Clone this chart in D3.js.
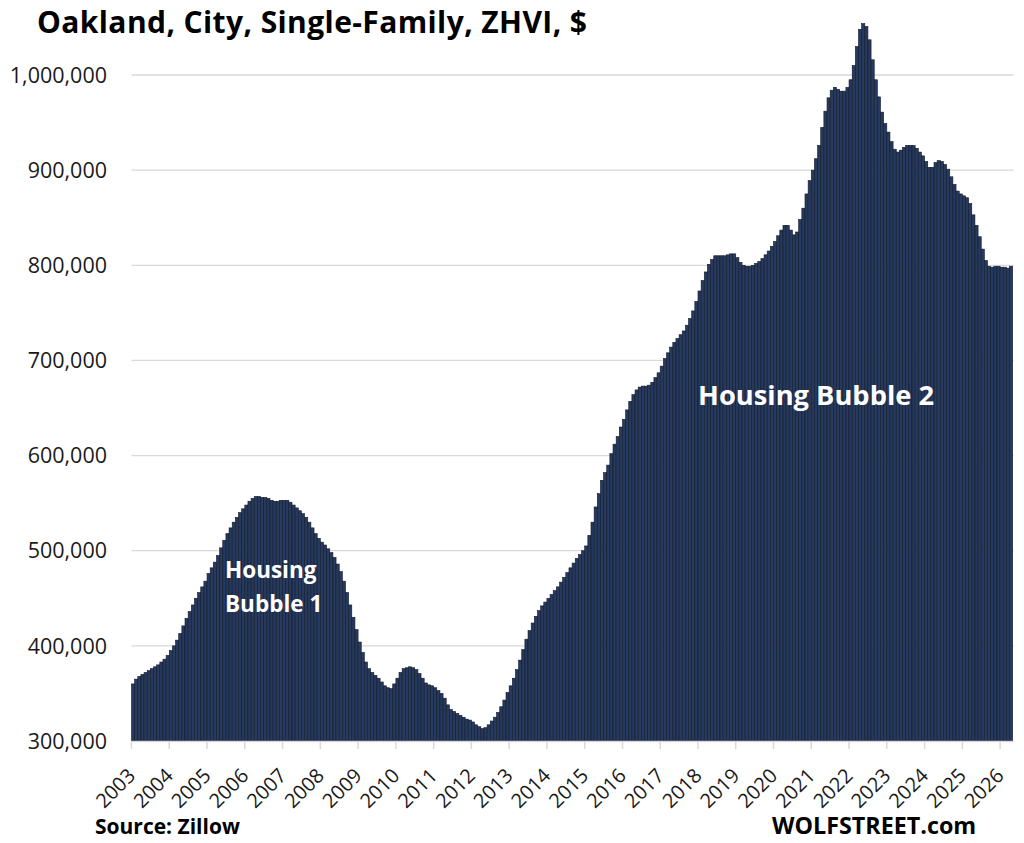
<!DOCTYPE html>
<html>
<head>
<meta charset="utf-8">
<script src="https://cdn.jsdelivr.net/npm/d3@7"></script>
<style>
  body { margin: 0; background: #fff; }
  svg { display: block; }
  text { font-family: "Open Sans", "Noto Sans", sans-serif; }
</style>
</head>
<body>
<div id="chart"></div>
<script>
// Oakland single-family ZHVI, monthly, Jan 2003 - Apr 2026
const firstYear = 2003;
const zhvi = [
  360000, 365000, 368000, 370000, 372000, 374000, 376000, 378000, 380000, 383000, 386000, 390000, // 2003
  395000, 400000, 406000, 413000, 421000, 429000, 436000, 443000, 450000, 456000, 462000, 468000, // 2004
  476000, 482000, 488000, 495000, 503000, 511000, 518000, 524000, 530000, 535000, 540000, 544000, // 2005
  548000, 552000, 555000, 557000, 557000, 556000, 556000, 555000, 553000, 552000, 552000, 553000, // 2006
  553000, 553000, 551000, 548000, 545000, 542000, 539000, 535000, 530000, 524000, 518000, 513000, // 2007
  509000, 506000, 502000, 498000, 493000, 486000, 478000, 468000, 456000, 443000, 430000, 417000, // 2008
  404000, 393000, 383000, 376000, 372000, 369000, 366000, 362000, 358000, 356000, 355000, 360000, // 2009
  366000, 372000, 376000, 377000, 378000, 377000, 375000, 371000, 366000, 361000, 359000, 358000, // 2010
  356000, 353000, 350000, 345000, 338000, 333000, 331000, 329000, 327000, 325000, 323000, 322000, // 2011
  320000, 317000, 315000, 313000, 314000, 317000, 321000, 325000, 330000, 336000, 343000, 351000, // 2012
  358000, 366000, 375000, 385000, 396000, 407000, 416000, 424000, 431000, 437000, 442000, 446000, // 2013
  450000, 454000, 458000, 462000, 467000, 472000, 477000, 482000, 487000, 492000, 496000, 500000, // 2014
  505000, 516000, 530000, 546000, 560000, 574000, 582000, 590000, 602000, 612000, 620000, 630000, // 2015
  638000, 648000, 657000, 664000, 669000, 672000, 673000, 673000, 674000, 677000, 682000, 687000, // 2016
  694000, 702000, 708000, 714000, 719000, 723000, 727000, 731000, 737000, 744000, 752000, 762000, // 2017
  773000, 784000, 793000, 801000, 806000, 810000, 810000, 810000, 810000, 811000, 812000, 812000, // 2018
  808000, 803000, 800000, 799000, 799000, 800000, 802000, 804000, 807000, 811000, 815000, 820000, // 2019
  825000, 831000, 837000, 842000, 842000, 837000, 832000, 835000, 848000, 860000, 875000, 889000, // 2020
  900000, 912000, 926000, 945000, 962000, 976000, 984000, 987000, 985000, 983000, 983000, 987000, // 2021
  995000, 1010000, 1030000, 1048000, 1054000, 1051000, 1037000, 1016000, 995000, 977000, 961000, 949000, // 2022
  940000, 930000, 922000, 919000, 921000, 924000, 926000, 926000, 926000, 923000, 919000, 915000, // 2023
  909000, 903000, 903000, 908000, 910000, 909000, 906000, 901000, 893000, 885000, 878000, 875000, // 2024
  873000, 871000, 865000, 853000, 842000, 830000, 817000, 805000, 799000, 798000, 799000, 799000, // 2025
  798000, 798000, 797000, 799000                                                                    // 2026
];
const yearLabels = ["2003", "2004", "2005", "2006", "2007", "2008", "2009", "2010", "2011", "2012", "2013", "2014",
  "2015", "2016", "2017", "2018", "2019", "2020", "2021", "2022", "2023", "2024", "2025", "2026"];
const yTicks = [300000, 400000, 500000, 600000, 700000, 800000, 900000, 1000000];

const width = 1024;
const height = 843;
const plot = { left: 131.5, right: 1012.7, bottom: 741, top: 75 };

const svg = d3.select('#chart')
  .append('svg')
  .attr('width', width)
  .attr('height', height);

const x = d3.scaleBand()
  .domain(d3.range(zhvi.length))
  .range([plot.left, plot.right])
  .paddingInner(0);

const y = d3.scaleLinear()
  .domain([300000, 1000000])
  .range([plot.bottom, plot.top]);

// gridlines
svg.append('g')
  .selectAll('line')
  .data(yTicks.slice(1))
  .enter()
  .append('line')
  .attr('x1', plot.left)
  .attr('x2', plot.right + 1)
  .attr('y1', d => y(d))
  .attr('y2', d => y(d))
  .attr('stroke', '#d9d9d9')
  .attr('stroke-width', 1.3);

// y labels
const fmt = d3.format(',');
svg.append('g')
  .selectAll('text')
  .data(yTicks)
  .enter()
  .append('text')
  .attr('x', 107)
  .attr('y', d => y(d))
  .attr('dy', '0.36em')
  .attr('text-anchor', 'end')
  .attr('font-size', 21.5)
  .attr('fill', '#1a1a1a')
  .text(d => fmt(d));

// bars
svg.append('g')
  .selectAll('rect')
  .data(zhvi)
  .enter()
  .append('rect')
  .attr('x', (d, i) => x(i))
  .attr('width', x.bandwidth())
  .attr('y', d => y(d))
  .attr('height', d => plot.bottom - y(d))
  .attr('fill', '#26395e')
  .attr('stroke', '#131a28')
  .attr('stroke-width', 0.6);

// x axis line + ticks
const axis = svg.append('g');
axis.append('line')
  .attr('x1', plot.left)
  .attr('x2', plot.right + 1)
  .attr('y1', plot.bottom + 0.5)
  .attr('y2', plot.bottom + 0.5)
  .attr('stroke', '#d9d9d9')
  .attr('stroke-width', 1.5);

axis.selectAll('line.tick')
  .data(yearLabels)
  .enter()
  .append('line')
  .attr('class', 'tick')
  .attr('x1', (d, i) => x(i * 12))
  .attr('x2', (d, i) => x(i * 12))
  .attr('y1', plot.bottom)
  .attr('y2', plot.bottom + 8)
  .attr('stroke', '#d9d9d9')
  .attr('stroke-width', 1.5);

axis.selectAll('text')
  .data(yearLabels)
  .enter()
  .append('text')
  .attr('transform', (d, i) => `translate(${x(i * 12) + 5}, ${plot.bottom + 36}) rotate(-45)`)
  .attr('text-anchor', 'end')
  .attr('font-size', 20)
  .attr('fill', '#1a1a1a')
  .text(d => d);

// title, annotations, credits
svg.append('text')
  .attr('x', 37)
  .attr('y', 33)
  .attr('font-size', 30)
  .attr('font-weight', 700)
  .attr('letter-spacing', 0.4)
  .attr('fill', '#000')
  .text('Oakland, City, Single-Family, ZHVI, $');

svg.append('text')
  .attr('x', 698)
  .attr('y', 405)
  .attr('font-size', 27.3)
  .attr('font-weight', 700)
  .attr('fill', '#fff')
  .text('Housing Bubble 2');

const bubble1 = svg.append('text')
  .attr('font-size', 22.5)
  .attr('font-weight', 700)
  .attr('fill', '#fff');
bubble1.append('tspan').attr('x', 225).attr('y', 578).text('Housing');
bubble1.append('tspan').attr('x', 225).attr('y', 612).text('Bubble 1');

svg.append('text')
  .attr('x', 95)
  .attr('y', 834)
  .attr('font-size', 21)
  .attr('font-weight', 700)
  .attr('fill', '#000')
  .text('Source: Zillow');

svg.append('text')
  .attr('x', 772)
  .attr('y', 834)
  .attr('font-size', 23.3)
  .attr('font-weight', 700)
  .attr('fill', '#000')
  .text('WOLFSTREET.com');
</script>
</body>
</html>
